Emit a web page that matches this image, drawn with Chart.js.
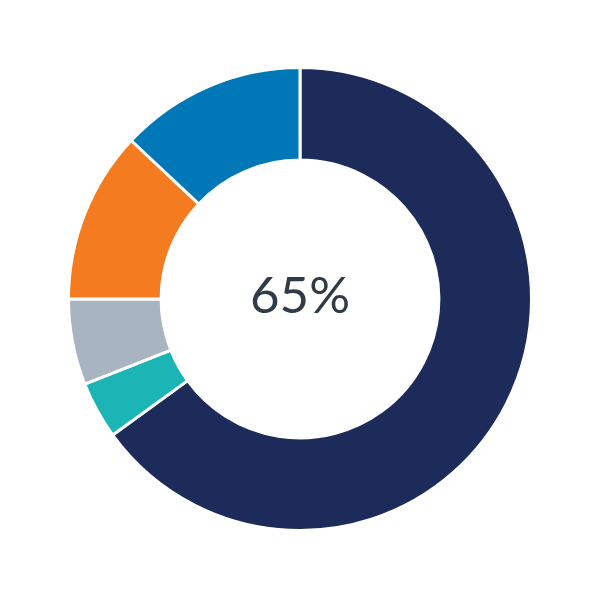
<!DOCTYPE html>
<html>
<head>
<meta charset="utf-8">
<script src="https://cdn.jsdelivr.net/npm/chart.js@4/dist/chart.umd.min.js"></script>
<style>
html,body{margin:0;padding:0;background:#fff;}
#wrap{width:600px;height:599px;}
</style>
</head>
<body>
<div id="wrap"><canvas id="c" width="600" height="599"></canvas></div>
<script>
const categories = ["Navy", "Teal", "Gray", "Orange", "Blue"];
const values = [65, 4, 6, 12, 13];
const colors = ["#1c2b5a", "#1bb5b5", "#a9b4c2", "#f47b20", "#0077b6"];
const centerLabel = "65%";

const centerText = {
  id: 'centerText',
  afterDraw(chart) {
    const meta = chart.getDatasetMeta(0);
    const arc = meta.data[0];
    const ctx = chart.ctx;
    ctx.save();
    ctx.font = '400 51px Lato, "Open Sans", sans-serif';
    ctx.fillStyle = '#2f3b46';
    ctx.textAlign = 'center';
    ctx.textBaseline = 'alphabetic';
    ctx.fillText(centerLabel, arc.x, arc.y + 14);
    ctx.restore();
  }
};

new Chart(document.getElementById('c'), {
  type: 'doughnut',
  data: {
    labels: categories,
    datasets: [{
      data: values,
      backgroundColor: colors,
      borderColor: '#ffffff',
      borderWidth: 3
    }]
  },
  options: {
    responsive: false,
    animation: false,
    cutout: '60%',
    layout: { padding: { left: 67, right: 67, top: 66, bottom: 67 } },
    plugins: { legend: { display: false }, tooltip: { enabled: false } }
  },
  plugins: [centerText]
});
</script>
</body>
</html>
